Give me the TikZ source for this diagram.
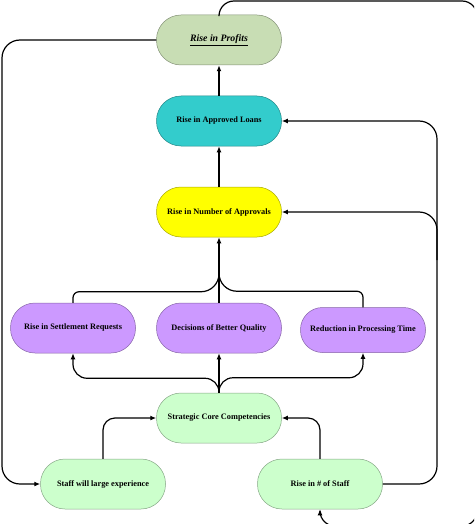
\documentclass[tikz,border=0pt]{standalone}
\usepackage{fontspec}
\setmainfont{Liberation Serif}
\usetikzlibrary{arrows.meta,calc}
\definecolor{profitc}{RGB}{200,221,180}
\definecolor{loanc}{RGB}{51,204,204}
\definecolor{apprc}{RGB}{255,255,0}
\definecolor{purplec}{RGB}{204,153,255}
\definecolor{greenc}{RGB}{204,255,204}
\begin{document}
\begin{tikzpicture}[x=1pt,y=-1pt,
  box/.style={rectangle, rounded corners=24.5pt, minimum width=125pt, minimum height=50pt,
    font=\bfseries\fontsize{8.3}{10}\selectfont, inner sep=2pt, line width=0.5pt, fill=#1, draw=#1!65!black},
  conn/.style={line width=1.2pt, rounded corners=12pt},
  arr/.style={conn, -{Latex[length=6pt,width=5pt]}}]
\useasboundingbox (0,0) rectangle (474,524);
\clip (0,0) rectangle (474,524);
\node[box=profitc, font=\bfseries\itshape\fontsize{9.8}{12}\selectfont] (profits) at (219,40) {\underline{Rise in Profits}};
\node[box=loanc] (loans) at (219,121) {Rise in Approved Loans};
\node[box=apprc] (appr) at (219,212) {Rise in Number of Approvals};
\node[box=purplec] (settle) at (73,328) {Rise in Settlement Requests};
\node[box=purplec] (decis) at (219,328) {Decisions of Better Quality};
\node[box=purplec, minimum height=45pt, rounded corners=22pt] (reduc) at (363,330) {Reduction in Processing Time};
\node[box=greenc] (strat) at (219,418) {Strategic Core Competencies};
\node[box=greenc] (staffA) at (103,484) {Staff will large experience};
\node[box=greenc] (staffB) at (320,484) {Rise in \# of Staff};
% vertical chain
\draw[arr] (loans.north) -- (profits.south);
\draw[arr] (appr.north) -- (loans.south);
\draw[arr] (decis.north) -- (appr.south);
\draw[conn] (settle.north) [rounded corners=6pt] -- ($(settle.north)+(0,-11)$) [rounded corners=18pt] -| ([yshift=-10pt]appr.south);
\draw[conn] (reduc.north) [rounded corners=6pt] -- ($(reduc.north)+(0,-16)$) [rounded corners=18pt] -| ([yshift=-10pt]appr.south);
% strategic branches
\draw[arr] (strat.north) -- (decis.south);
\draw[arr] (strat.north) [rounded corners=14pt] |- ($(settle.south)+(0,25)$) [rounded corners=10pt] -- (settle.south);
\draw[arr] (strat.north) [rounded corners=14pt] |- ($(reduc.south)+(0,25)$) [rounded corners=10pt] -- (reduc.south);
% staff into strategic
\draw[arr] (staffA.north) |- (strat.west);
\draw[arr] (staffB.north) |- (strat.east);
% right loop
\coordinate (rx) at (437,300);
\coordinate (ry) at (437,260);
\draw[arr, rounded corners=18pt] (staffB.east) -| (rx) |- (loans.east);
\draw[arr, rounded corners=18pt] (ry) |- (appr.east);
% left loop
\coordinate (lx) at (2,300);
\draw[arr, rounded corners=18pt] (profits.west) -| (lx) |- (staffA.west);
% top loop (partly outside)
\coordinate (tr) at (477,1);
\coordinate (br) at (477,526);
\draw[arr, rounded corners=15pt] (profits.north) |- (tr) -- (br) -| (staffB.south);
\end{tikzpicture}
\end{document}
